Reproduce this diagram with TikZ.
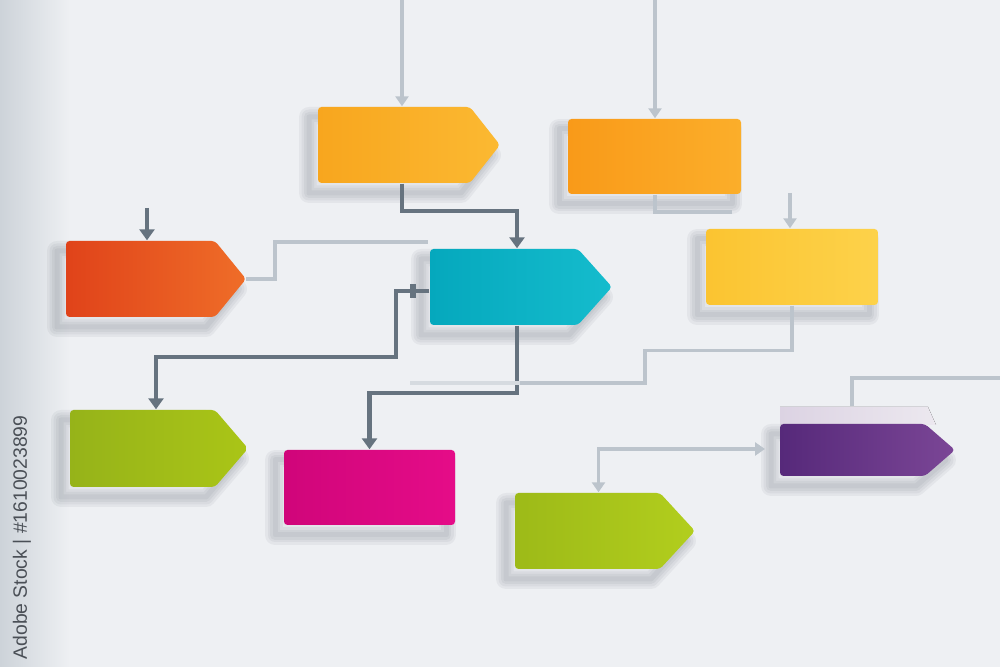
\documentclass[tikz,border=0pt]{standalone}
\usepackage{fontspec}
\newfontfamily\wmfont{Liberation Sans}
\usetikzlibrary{arrows.meta,fit}
\definecolor{bg}{HTML}{EEF0F3}
\definecolor{bgEdge}{HTML}{CDD3D9}
\definecolor{lineDark}{HTML}{66737F}
\definecolor{lineLight}{HTML}{BCC4CC}
\definecolor{lineFaint}{HTML}{D6DBE0}
\definecolor{shadowCol}{HTML}{3A4350}
\definecolor{orA}{HTML}{F8A61E}\definecolor{orB}{HTML}{FBB932}
\definecolor{orC}{HTML}{F99A19}\definecolor{orD}{HTML}{FBAE2A}
\definecolor{rdA}{HTML}{E0431A}\definecolor{rdB}{HTML}{EF6D28}
\definecolor{tlA}{HTML}{05A8BD}\definecolor{tlB}{HTML}{15BCCD}
\definecolor{ylA}{HTML}{FBC431}\definecolor{ylB}{HTML}{FDD24A}
\definecolor{grA}{HTML}{96B319}\definecolor{grB}{HTML}{AAC517}
\definecolor{grC}{HTML}{9DBA18}\definecolor{grD}{HTML}{B2CE1D}
\definecolor{mgA}{HTML}{D0057A}\definecolor{mgB}{HTML}{E50C88}
\definecolor{puA}{HTML}{56297A}\definecolor{puB}{HTML}{7B4696}
\definecolor{lavA}{HTML}{DCD3E3}\definecolor{lavB}{HTML}{ECE8EF}
\definecolor{wmText}{HTML}{4A4F56}
\tikzset{
  darkline/.style={draw=lineDark, line width=0.42mm},
  lightline/.style={draw=lineLight, line width=0.32mm},
  dtip/.tip={Triangle[width=1.5mm,length=1.1mm]},
  ltip/.tip={Triangle[width=1.3mm,length=1.0mm]},
  shadowlayer/.style={draw=shadowCol, line join=round, draw opacity=0.06,
     shift={(-9,10)}},
  wmstyle/.style={text=wmText, font=\wmfont\fontsize{5.5}{6}\selectfont, inner sep=0pt},
}
% soft shadow of a closed path
\newcommand\softshadowpath[1]{%
  \foreach \lw in {2.0mm,1.5mm,1.0mm,0.5mm}{%
    \path[shadowlayer, line width=\lw] #1;}%
}
% name, x1, y1, x2, y2, tipx, left colour, right colour
\newcommand\flowarrowbox[8]{%
  \softshadowpath{(#2,#3) -- (#4,#3) -- (#6,{(#3+#5)/2}) -- (#4,#5) -- (#2,#5) -- cycle}
  \path[left color=#7, right color=#8, rounded corners=0.35mm]
    (#2,#3) -- (#4,#3) -- (#6,{(#3+#5)/2}) -- (#4,#5) -- (#2,#5) -- cycle;
  \node[fit={(#2,#3) (#4,#5)}, inner sep=0pt] (#1) {};
  \coordinate (#1-tip) at (#6,{(#3+#5)/2});
}
% name, x1, y1, x2, y2, left colour, right colour
\newcommand\flowrectbox[7]{%
  \softshadowpath{(#2,#3) rectangle (#4,#5)}
  \path[left color=#6, right color=#7, rounded corners=0.35mm]
    (#2,#3) rectangle (#4,#5);
  \node[fit={(#2,#3) (#4,#5)}, inner sep=0pt] (#1) {};
}
\begin{document}
\begin{tikzpicture}[x=0.1mm, y=-0.1mm]
\useasboundingbox (0,0) rectangle (1000,667);
% background
\fill[bg] (0,0) rectangle (1000,667);
\shade[left color=bgEdge, right color=bg] (0,0) rectangle (70,667);

% boxes
\flowarrowbox{A1}{318}{107}{470}{183}{500}{orA}{orB}
\flowrectbox{A2}{568}{119}{741}{194}{orC}{orD}
\flowarrowbox{R}{66}{241}{215}{317}{246}{rdA}{rdB}
\flowarrowbox{T}{430}{249}{578}{325}{612}{tlA}{tlB}
\flowrectbox{Y}{706}{229}{878}{305}{ylA}{ylB}
\flowarrowbox{G1}{70}{410}{215}{487}{248}{grA}{grB}
\flowrectbox{M}{284}{450}{455}{525}{mgA}{mgB}
\flowarrowbox{G2}{515}{493}{660}{569}{695}{grC}{grD}
% purple box with its light strip
\fill[left color=lavA, right color=lavB] (780,407) -- (928,407) -- (936,425) -- (780,425) -- cycle;
\node[fit={(780,407) (928,425)}, inner sep=0pt] (Ps) {};
\flowarrowbox{P}{780}{424}{925}{476}{955}{puA}{puB}

% free ends of connectors
\coordinate (in1) at (402,0);
\coordinate (in2) at (655,0);
\coordinate (in3) at (790,193);
\coordinate (in4) at (147,208);
\coordinate (a2end) at (732,212);
\coordinate (rend) at (428,242);
\coordinate (yend) at (520,383);
\coordinate (yfade) at (410,383);
\coordinate (gend) at (765,449);
\coordinate (pend) at (1000,378);

% connectors
\draw[lightline,-ltip] (in1) -- (in1 |- A1.north);
\draw[lightline,-ltip] (in2) -- (in2 |- A2.north);
\draw[lightline,-ltip] (in3) -- (in3 |- Y.north);
\draw[darkline,-dtip] (in4) -- (in4 |- R.north);
\draw[darkline,-dtip] (in1 |- A1.south) -- ++(0,27) -| ([xshift=1.3mm]T.north);
\draw[lightline] (in2 |- A2.south) |- (a2end);
\draw[lightline] (R-tip) -- ++(29,0) |- (rend);
\draw[darkline,-dtip] ([yshift=-0.4mm]T.west) -- ++(-33,0) -- ++(0,66) -| ([xshift=1.35mm]G1.north);
\draw[lineDark, line width=0.55mm] (413,284) -- (413,298);
\draw[darkline,-dtip] ([xshift=1.3mm]T.south) -- ++(0,67) -| (M.north);
\draw[lightline] (Y.south) -- ++(0,45) -- ++(-147,0) |- (yend);
\draw[lightline, draw=lineFaint] (yend) -- (yfade);
\draw[lightline,ltip-ltip] ([xshift=1.1mm]G2.north) |- (gend);
\draw[lightline] ([xshift=-0.2mm]Ps.north) |- (pend);

% stock watermark line
\node[wmstyle, rotate=90, anchor=west] (wm) at (22,660) {Adobe Stock | \#1610023899};
\end{tikzpicture}
\end{document}
